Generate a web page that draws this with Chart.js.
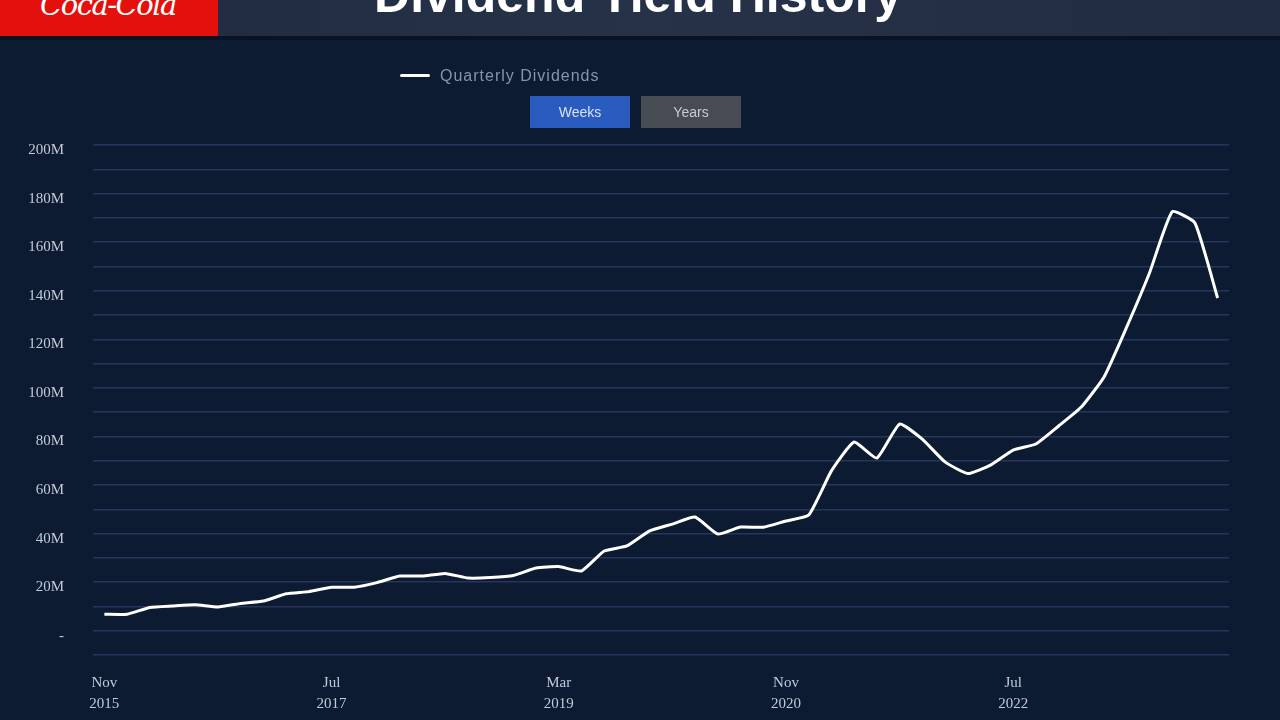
<!DOCTYPE html>
<html>
<head>
<meta charset="utf-8">
<script src="https://cdn.jsdelivr.net/npm/chart.js@4.4.1/dist/chart.umd.min.js"></script>
<style>
  html, body { margin: 0; padding: 0; }
  body { width: 1280px; height: 720px; overflow: hidden; background: #0c1a32; position: relative; font-family: "Liberation Sans", Arial, sans-serif; }
  #header { position: absolute; left: 0; top: 0; width: 1280px; height: 36px; background: linear-gradient(90deg, #1f2a3f, #263248 50%, #222c40); overflow: hidden; }
  #shadow { position: absolute; left: 0; top: 36px; width: 1280px; height: 4px; background: #0a1326; }
  #logo { position: absolute; left: 0; top: 0; width: 218px; height: 36px; background: #e3100c; overflow: hidden; }
  #logo span { position: absolute; left: 40px; top: -15px; font-family: "DejaVu Serif", serif; font-style: italic; font-size: 29px; line-height: 40px; color: #fff; letter-spacing: -1.5px; }
  #title { position: absolute; left: 0; width: 1276px; top: -30px; text-align: center; font-size: 50px; line-height: 50px; font-weight: bold; color: #ffffff; }
  #legend { position: absolute; left: 400px; top: 66px; height: 20px; }
  #legend .sw { position: absolute; left: 0; top: 8px; width: 30px; height: 3px; background: #fff; border-radius: 2px; }
  #legend .tx { position: absolute; left: 40px; top: 0; font-size: 16px; letter-spacing: 1px; line-height: 20px; color: #8a93a6; white-space: nowrap; }
  .btn { position: absolute; top: 96px; width: 100px; height: 32px; line-height: 32px; text-align: center; font-size: 14px; }
  #b1 { left: 530px; background: #2a5bbf; color: #d9e2f5; }
  #b2 { left: 641px; background: #464b54; color: #c8ccd2; }
  #chartWrap { position: absolute; left: 0; top: 0; width: 1280px; height: 720px; }
</style>
</head>
<body>
<div id="chartWrap"><canvas id="c" width="1280" height="720"></canvas></div>
<div id="header">
  <div id="title">Dividend Yield History</div>
  <div id="logo"><span>Coca-Cola</span></div>
</div>
<div id="shadow"></div>
<div id="legend"><div class="sw"></div><div class="tx">Quarterly Dividends</div></div>
<div class="btn" id="b1">Weeks</div>
<div class="btn" id="b2">Years</div>
<script>
// Categories: bimonthly periods
const categories = [
  'Nov 2015','Jan 2016','Mar 2016','May 2016','Jul 2016','Sep 2016','Nov 2016','Jan 2017','Mar 2017','May 2017',
  'Jul 2017','Sep 2017','Nov 2017','Jan 2018','Mar 2018','May 2018','Jul 2018','Sep 2018','Nov 2018','Jan 2019',
  'Mar 2019','May 2019','Jul 2019','Sep 2019','Nov 2019','Jan 2020','Mar 2020','May 2020','Jul 2020','Sep 2020',
  'Nov 2020','Jan 2021','Mar 2021','May 2021','Jul 2021','Sep 2021','Nov 2021','Jan 2022','Mar 2022','May 2022',
  'Jul 2022','Sep 2022','Nov 2022','Jan 2023','Mar 2023','May 2023','Jul 2023','Sep 2023','Nov 2023','Jan 2024'
];
// Series values (millions)
const dividends = [
  6.8, 6.8, 9.6, 10.2, 10.7, 9.8, 11.2, 12.2, 15.2, 16.1,
  17.9, 17.9, 19.8, 22.5, 22.5, 23.6, 21.7, 21.9, 22.7, 25.8,
  26.4, 24.6, 32.8, 34.9, 41.1, 43.9, 46.8, 39.8, 42.7, 42.6,
  45.2, 47.6, 65.8, 77.7, 71.1, 85.1, 78.9, 69.5, 64.7, 68.2,
  74.4, 76.9, 84.3, 92.1, 104.5, 125.1, 147.3, 172.5, 167.9, 137.0
];
// X tick labels (every 10th category)
const xTickLabels = [['Nov','2015'], ['Jul','2017'], ['Mar','2019'], ['Nov','2020'], ['Jul','2022']];
// Y tick labels
const yTickValues = [0, 20, 40, 60, 80, 100, 120, 140, 160, 180, 200];
const yTickLabels = ['-', '20M', '40M', '60M', '80M', '100M', '120M', '140M', '160M', '180M', '200M'];

const tickFont = { family: '"Liberation Serif", serif', size: 15 };

new Chart(document.getElementById('c'), {
  type: 'line',
  data: {
    labels: categories,
    datasets: [{
      label: 'Quarterly Dividends',
      data: dividends,
      borderColor: '#ffffff',
      borderWidth: 3,
      pointRadius: 0,
      tension: 0.15,
      fill: false
    }]
  },
  options: {
    responsive: false,
    animation: false,
    layout: { padding: { left: 0, right: 51, top: 145, bottom: 0 } },
    plugins: { legend: { display: false }, tooltip: { enabled: false } },
    scales: {
      x: {
        type: 'category',
        offset: true,
        grid: { display: false, drawTicks: false },
        border: { display: false },
        afterFit: s => { s.height = 65; },
        ticks: {
          autoSkip: false,
          maxRotation: 0,
          padding: 18,
          color: '#c3cad6',
          font: { family: '"Liberation Serif", serif', size: 15, lineHeight: 1.4 },
          callback: (v, i) => (i % 10 === 0 ? xTickLabels[i / 10] : '')
        }
      },
      y: {
        min: -10,
        max: 200,
        grid: { color: '#26365a', lineWidth: 1.5, drawTicks: false },
        border: { display: false },
        afterFit: s => { s.width = 93; },
        ticks: {
          stepSize: 10,
          autoSkip: false,
          padding: 29,
          labelOffset: 5,
          color: '#c3cad6',
          font: tickFont,
          callback: v => {
            const k = yTickValues.indexOf(v);
            return k >= 0 ? yTickLabels[k] : '';
          }
        }
      }
    }
  }
});
</script>
</body>
</html>
